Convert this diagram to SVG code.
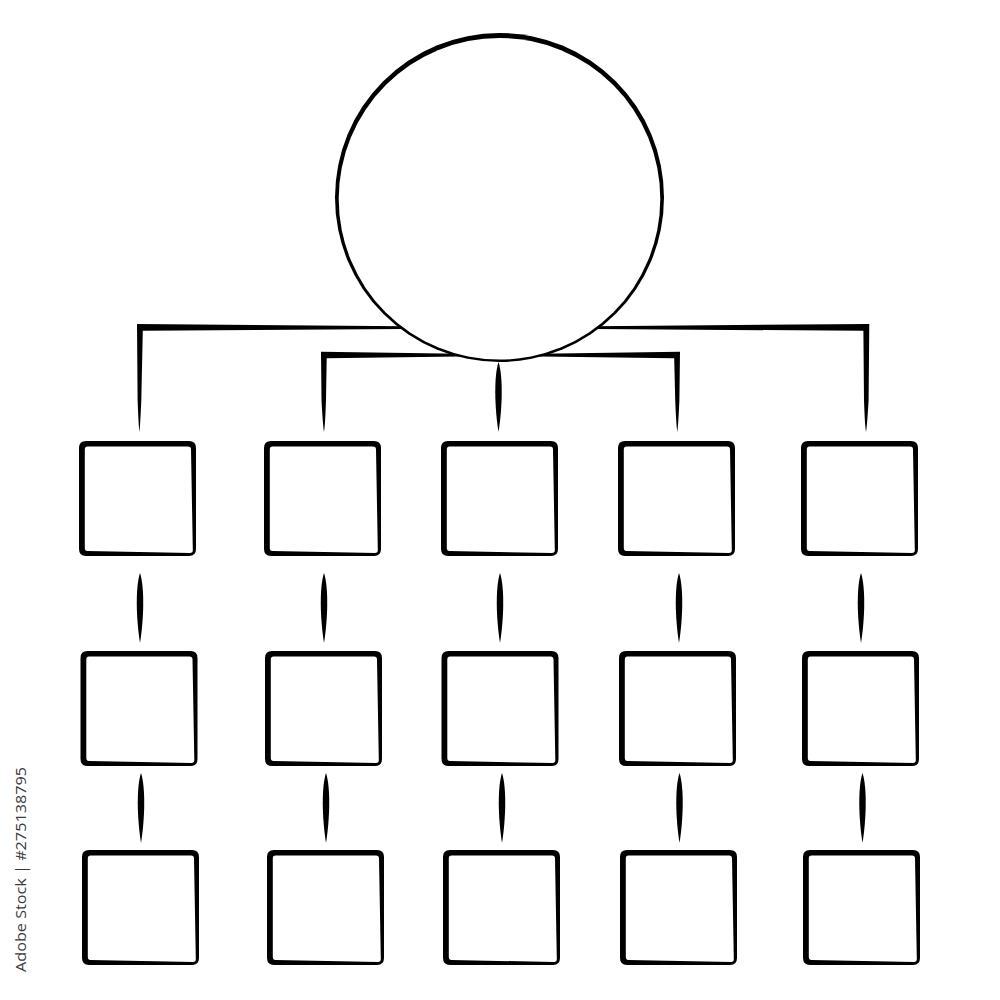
<svg xmlns="http://www.w3.org/2000/svg" xmlns:xlink="http://www.w3.org/1999/xlink" width="1000" height="1000" viewBox="0 0 1000 1000">
  <style>
    .ink { fill: #000; }
    .box { fill: #000; fill-rule: evenodd; }
    .credit { font-family: "Open Sans", "Liberation Sans", sans-serif; font-size: 15px; fill: #3a3a3a; }
  </style>
  <defs>
    <path id="box" class="box" d="M7,0 H110 Q117,0 117,7 V108 Q117,115 110,115 H7 Q0,115 0,108 V7 Q0,0 7,0 Z M8.5,5.5 H109 Q112,5.5 112,8.5 L113.8,109 Q114,112 111,112 L8.5,110 Q5.8,110 5.8,107 V8.5 Q5.8,5.5 8.5,5.5 Z"/>
    <path id="spindle" class="ink" d="M0,0 C4.6,14 4,45 0,70 C-4,45 -4.6,14 0,0 Z"/>
  </defs>
  <rect width="1000" height="1000" fill="#fff"/>

  <g id="connectors">
    <!-- outer left -->
    <path class="ink" d="M405,326.2 L137,324 L137.6,400 Q138.5,425 139.4,432 Q140.3,425 141.3,400 L142.8,330.8 L405,329 Z"/>
    <!-- outer right -->
    <path class="ink" d="M595,326.2 L869.3,324 L868.6,400 Q867.2,425 866,432 Q864.8,425 864,400 L863.4,330.8 L595,329 Z"/>
    <!-- inner left -->
    <path class="ink" d="M460,353.8 L321,351.7 L321.5,400 Q322.8,425 324,432 Q325.2,425 326,400 L326.7,358.3 L460,356.4 Z"/>
    <!-- inner right -->
    <path class="ink" d="M540,353.8 L680,351.7 L679.4,400 Q678.3,425 677.3,432 Q676.2,425 675.2,400 L674.2,358.3 L540,356.4 Z"/>
    <!-- center -->
    <use href="#spindle" xlink:href="#spindle" transform="translate(498.5,362)"/>
    <!-- row1 to row2 -->
    <use href="#spindle" xlink:href="#spindle" transform="translate(140,573)"/>
    <use href="#spindle" xlink:href="#spindle" transform="translate(324,573)"/>
    <use href="#spindle" xlink:href="#spindle" transform="translate(500,573)"/>
    <use href="#spindle" xlink:href="#spindle" transform="translate(679,573)"/>
    <use href="#spindle" xlink:href="#spindle" transform="translate(861,573)"/>
    <!-- row2 to row3 -->
    <use href="#spindle" xlink:href="#spindle" transform="translate(141,773)"/>
    <use href="#spindle" xlink:href="#spindle" transform="translate(326,773)"/>
    <use href="#spindle" xlink:href="#spindle" transform="translate(502,773)"/>
    <use href="#spindle" xlink:href="#spindle" transform="translate(679.5,773)"/>
    <use href="#spindle" xlink:href="#spindle" transform="translate(862.5,773)"/>
  </g>

  <g id="root">
    <circle cx="499.5" cy="197.5" r="164.5" fill="#000"/>
    <circle cx="499.5" cy="198.8" r="160.8" fill="#fff"/>
  </g>

  <g id="n1-1"><use href="#box" xlink:href="#box" transform="translate(79,441)"/></g>
  <g id="n1-2"><use href="#box" xlink:href="#box" transform="translate(264,441)"/></g>
  <g id="n1-3"><use href="#box" xlink:href="#box" transform="translate(441,441)"/></g>
  <g id="n1-4"><use href="#box" xlink:href="#box" transform="translate(618,441)"/></g>
  <g id="n1-5"><use href="#box" xlink:href="#box" transform="translate(801,441)"/></g>

  <g id="n2-1"><use href="#box" xlink:href="#box" transform="translate(80.5,651)"/></g>
  <g id="n2-2"><use href="#box" xlink:href="#box" transform="translate(265,651)"/></g>
  <g id="n2-3"><use href="#box" xlink:href="#box" transform="translate(441.5,651)"/></g>
  <g id="n2-4"><use href="#box" xlink:href="#box" transform="translate(619,651)"/></g>
  <g id="n2-5"><use href="#box" xlink:href="#box" transform="translate(802,651)"/></g>

  <g id="n3-1"><use href="#box" xlink:href="#box" transform="translate(82,850)"/></g>
  <g id="n3-2"><use href="#box" xlink:href="#box" transform="translate(267,850)"/></g>
  <g id="n3-3"><use href="#box" xlink:href="#box" transform="translate(443,850)"/></g>
  <g id="n3-4"><use href="#box" xlink:href="#box" transform="translate(620,850)"/></g>
  <g id="n3-5"><use href="#box" xlink:href="#box" transform="translate(803,850)"/></g>

  <text class="credit" transform="translate(25.5,972) rotate(-90)" textLength="205" lengthAdjust="spacingAndGlyphs">Adobe Stock | #275138795</text>
</svg>
